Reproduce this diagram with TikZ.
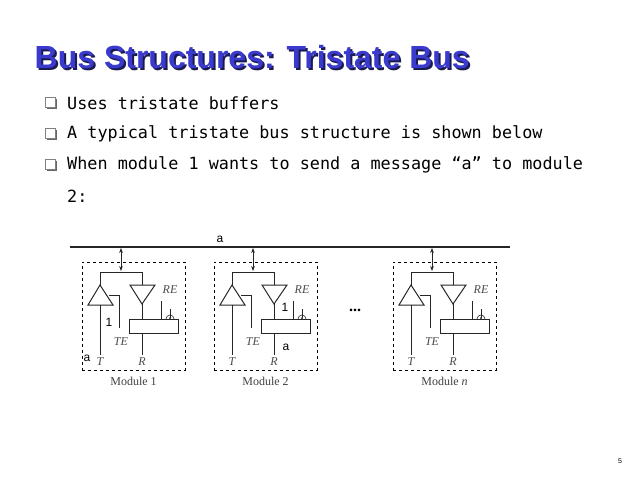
\documentclass[tikz,border=0pt]{standalone}
\usepackage{fontspec}
\setmainfont{Liberation Serif}
\setsansfont{Liberation Sans}
\setmonofont{DejaVu Sans Mono}
\usetikzlibrary{arrows.meta}
\definecolor{titleblue}{HTML}{3A3ACF}
\definecolor{shadow}{HTML}{1A1A50}
\begin{document}
\begin{tikzpicture}[x=1pt,y=-1pt,
  wire/.style={line width=1pt,draw=black!85},
  lbl/.style={font=\fontsize{12}{12}\selectfont\itshape,text=black!70,inner sep=0},
  sl/.style={font=\sffamily\fontsize{12}{12}\selectfont,inner sep=0},
  body/.style={font=\ttfamily\fontsize{16.8}{16.8}\selectfont,anchor=west,inner sep=0}]
\useasboundingbox (0,0) rectangle (638,479);
% title
\node[font=\sffamily\bfseries\fontsize{32}{32}\selectfont,text=shadow,anchor=west,inner sep=0] at (36.5,59) {Bus Structures: Tristate Bus};
\node[font=\sffamily\bfseries\fontsize{32}{32}\selectfont,text=titleblue,anchor=west,inner sep=0] (title) at (34.5,57) {Bus Structures: Tristate Bus};
% bullets
\foreach \yy/\t [count=\i] in {103/{Uses tristate buffers},134/{A typical tristate bus structure is shown below},165/{When module 1 wants to send a message “a” to module}}{
  \fill[black!60] (47,\yy-4) rectangle (57,\yy+6);
  \draw[black!50,fill=white] (45,\yy-6) rectangle (55,\yy+4);
  \node[body] (b\i) at (67,\yy) {\t};
}
\node[body] (b4) at (67,196) {2:};
% bus
\coordinate (busL) at (70,247);
\coordinate (busR) at (510,247);
\draw[wire,line width=1.3pt] (busL) -- (busR);
\node[sl] (abus) at (220,239) {a};
\foreach \dx/\name/\lab in {0/m1/Module 1,132/m2/Module 2,311/mn/Module \textit{n}}{
\begin{scope}[xshift=\dx]
  \node[draw,dashed,line width=1pt,minimum width=103pt,minimum height=108pt,inner sep=0] (\name) at (133.5,316) {};
  \node[font=\fontsize{12}{12}\selectfont,text=black!75,inner sep=0] at (133.5,381) {\lab};
  \draw[wire,{Stealth[length=5pt]}-{Stealth[length=5pt]}] (121,248) -- (121,271);
  \draw[wire] (100,285) -- (100,272) -- (142,272) -- (142,285);
  \draw[wire] (100,285) -- (88,305) -- (113,305) -- cycle;
  \draw[wire] (100,305) -- (100,355);
  \draw[wire] (109,295) -- (119,295) -- (119,328);
  \draw[wire] (130,285) -- (155,285) -- (142,304) -- cycle;
  \draw[wire] (142,304) -- (142,319);
  \draw[wire] (129,319) rectangle (178,333);
  \draw[wire] (142,333) -- (142,355);
  \draw[wire] (161,301) -- (161,319);
  \draw[wire,-{Stealth[length=3pt]}] (170,309) -- (170,320);
  \draw[wire,line width=0.6pt] (166,319) arc[start angle=180,end angle=360,radius=4];
  \node[lbl] at (100,362) {T};
  \node[lbl] at (121,342) {TE};
  \node[lbl] at (142,362) {R};
  \node[lbl] at (170,290) {RE};
\end{scope}}
\node[sl] (one1) at (109,322) {1};
\node[sl] (a1) at (87,358) {a};
\node[sl] (one2) at (285,307) {1};
\node[sl] (a2) at (286,347) {a};
\node[font=\bfseries\fontsize{16}{16}\selectfont,inner sep=0] (dots) at (355,310) {...};
\node[sl,font=\sffamily\fontsize{7}{7}\selectfont] (pg) at (620,461) {5};
\end{tikzpicture}
\end{document}
